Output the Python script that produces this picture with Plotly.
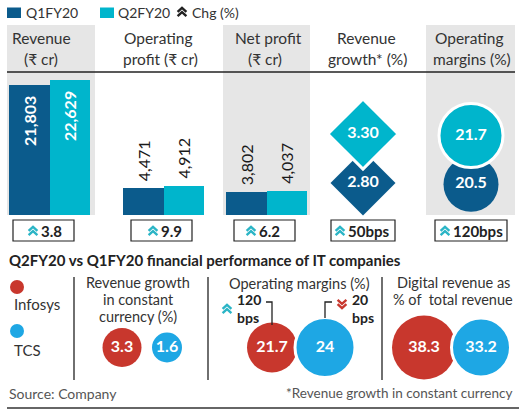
import plotly.graph_objects as go

# ---------------- data ----------------
quarters = ["Q1FY20", "Q2FY20"]
revenue = [21803, 22629]
op_profit = [4471, 4912]
net_profit = [3802, 4037]
rev_growth = [2.80, 3.30]
op_margin = [20.5, 21.7]
chg_labels = ["3.8", "9.9", "6.2", "50bps", "120bps"]
panel_titles = [("Revenue", "(₹ cr)"), ("Operating", "profit (₹ cr)"), ("Net profit", "(₹ cr)"),
                ("Revenue", "growth* (%)"), ("Operating", "margins (%)")]

companies = ["Infosys", "TCS"]
cc_growth = [3.3, 1.6]
op_margin_co = [21.7, 24]
op_margin_chg_bps = ["120", "20"]
digital_share = [38.3, 33.2]

# ---------------- styles ----------------
W, H = 527, 418
FONT = "Lato"
DARK = "#0b5b8c"
TEAL = "#00b5cc"
GRAY = "#e6e6e6"
RED = "#c8372d"
BLUE = "#1ea7e4"
CHEV = "#2bb5c6"
TXT = "#333333"
NB = "\u00a0"


def fx(x):
    return x / W


def fy(y):
    return 1 - y / H


def P(x, y):
    return f"{fx(x):.5f},{fy(y):.5f}"


shapes = []
annotations = []


def rect(x0, y0, x1, y1, fill=None, line=None, lw=1):
    shapes.append(dict(type="rect", xref="paper", yref="paper", x0=fx(x0), x1=fx(x1), y0=fy(y1), y1=fy(y0),
                       fillcolor=fill if fill else "rgba(0,0,0,0)",
                       line=dict(color=line if line else "rgba(0,0,0,0)", width=lw if line else 0),
                       layer="below"))


def line(x0, y0, x1, y1, color="#222", w=1.3):
    shapes.append(dict(type="line", xref="paper", yref="paper", x0=fx(x0), x1=fx(x1), y0=fy(y0), y1=fy(y1),
                       line=dict(color=color, width=w), layer="above"))


def path(pts, color="#222", w=1.3):
    d = "M" + " L".join(P(x, y) for x, y in pts)
    shapes.append(dict(type="path", xref="paper", yref="paper", path=d,
                       line=dict(color=color, width=w), layer="above"))


def chevron(cx, cy, color, up=True):
    w, h, gap = 4.4, 4.0, 4.4
    for k in (0, 1):
        if up:
            ty = cy - (h + gap) / 2 + k * gap
            pts = [(cx - w, ty + h), (cx, ty), (cx + w, ty + h)]
        else:
            ty = cy + (h + gap) / 2 - k * gap
            pts = [(cx - w, ty - h), (cx, ty), (cx + w, ty - h)]
        path(pts, color=color, w=2.4)


def dot(cx, cy, d, color):
    shapes.append(dict(type="circle", xref="paper", yref="paper", x0=fx(cx - d / 2), x1=fx(cx + d / 2),
                       y0=fy(cy + d / 2), y1=fy(cy - d / 2), fillcolor=color, line=dict(width=0), layer="above"))


def text(x, y, s, size=15, color=TXT, anchor="center", bold=False, align="center"):
    annotations.append(dict(x=fx(x), y=fy(y), xref="paper", yref="paper", text=s, showarrow=False,
                            xanchor=anchor, yanchor="middle", align=align,
                            font=dict(family=FONT, size=size, color=color, weight="bold" if bold else "normal")))


# ---------------- top legend ----------------
rect(7, 7.5, 21, 18, fill=DARK)
text(24, 12, quarters[0], size=14, anchor="left")
rect(100, 7.5, 114, 18, fill=TEAL)
text(116, 12, quarters[1], size=14, anchor="left")
chevron(182, 12, "#222")
text(190, 12, "Chg (%)", size=14, anchor="left")

# ---------------- panels ----------------
for x0, x1 in [(7, 95), (223, 310), (426, 515)]:
    rect(x0, 25, x1, 215, fill=GRAY)
line(7, 72, 515, 72, color="#222", w=1.3)

title_pos = [(41, 41), (158, 160), (268, 265), (366, 367), (469, 472)]
for (t1, t2), (c1, c2) in zip(panel_titles, title_pos):
    text(c1, 38, t1, size=15.5)
    text(c2, 59, t2, size=15.5)

# change boxes
boxes = [(13, 74), (131, 192), (234, 295), (331, 395), (435, 507)]
chev_x = [33, 153, 251, 340, 445]
for (b0, b1), cx, lab in zip(boxes, chev_x, chg_labels):
    shapes.append(dict(type="rect", xref="paper", yref="paper", x0=fx(b0), x1=fx(b1), y0=fy(241), y1=fy(220),
                       fillcolor="white", line=dict(color="#222", width=1.2), layer="below"))
    chevron(cx, 231, CHEV)
    text(cx + 6, 231, lab, size=15, color="#222", anchor="left", bold=True)

# ---------------- bottom section ----------------
text(7, 260, "Q2FY20 vs Q1FY20 financial performance of IT companies", size=15, color="#222",
     anchor="left", bold=True)
dot(17, 287, 14, RED)
text(12, 304, companies[0], size=15, anchor="left")
dot(17, 331, 14, BLUE)
text(12, 350, companies[1], size=15, anchor="left")
for xv in (74, 208, 382):
    line(xv, 277, xv, 380, color="#222", w=1.3)

text(138, 282, "Revenue growth", size=14.5)
text(138, 299, "in constant", size=14.5)
text(138, 316, "currency (%)", size=14.5)
text(299.5, 283, "Operating margins (%)", size=14.5)
text(453, 282, "Digital revenue as", size=14.5)
text(453, 299, "% of  total revenue", size=14.5)

chevron(227, 309, CHEV, up=True)
text(235, 308, op_margin_chg_bps[0] + "<br>bps", size=14, color="#222", anchor="left", bold=True,
     align="left")
path([(266, 302), (272, 302), (272, 325)])
chevron(342, 304, RED, up=False)
text(350, 308, op_margin_chg_bps[1] + "<br>bps", size=14, color="#222", anchor="left", bold=True,
     align="left")
path([(332, 302), (325, 302), (325, 318)])

text(7, 393, "Source: Company", size=14, color="#555", anchor="left")
text(514, 393, "*Revenue growth in constant currency", size=13.5, color="#555", anchor="right")
line(7, 408, 519, 408, color="#333", w=1.5)

# ---------------- traces ----------------
fig = go.Figure()

bar_common = dict(marker=dict(color=[DARK, TEAL], line=dict(width=0)), textangle=-90, constraintext="none",
                  cliponaxis=False, hoverinfo="skip", showlegend=False)
fig.add_trace(go.Bar(x=quarters, y=revenue, xaxis="x", yaxis="y", texttemplate="%{y:,}" + NB * 2,
                     textposition="inside", insidetextanchor="end",
                     insidetextfont=dict(family=FONT, size=16, color="white", weight="bold"), **bar_common))
for xa, vals in (("x2", op_profit), ("x3", net_profit)):
    fig.add_trace(go.Bar(x=quarters, y=vals, xaxis=xa, yaxis="y", texttemplate=NB + "%{y:,}",
                         textposition="outside",
                         outsidetextfont=dict(family=FONT, size=16, color="#1a1a1a"), **bar_common))

sc_common = dict(mode="markers+text", textposition="middle center", cliponaxis=False, hoverinfo="skip",
                 showlegend=False, textfont=dict(family=FONT, size=16, color="white", weight="bold"))
fig.add_trace(go.Scatter(x=[0, 0], y=rev_growth, xaxis="x4", yaxis="y4",
                         marker=dict(symbol="diamond", size=[50, 54], color=[DARK, TEAL], opacity=1,
                                     line=dict(color="white", width=[0, 3])),
                         text=[f"{v:.2f}" for v in rev_growth], **sc_common))
fig.add_trace(go.Scatter(x=[0, 0], y=op_margin, xaxis="x5", yaxis="y5",
                         marker=dict(symbol="circle", size=[55, 64], color=[DARK, TEAL], opacity=1,
                                     line=dict(color="white", width=[0, 3])),
                         text=[f"{v:.1f}" for v in op_margin], **sc_common))

for xa, vals, sizes, lw in (("x6", cc_growth, [39, 30], [0, 0]),
                            ("x7", op_margin_co, [50, 60], [0, 3]),
                            ("x8", digital_share, [64, 59], [0, 3])):
    fig.add_trace(go.Scatter(x=companies, y=[0, 0], xaxis=xa, yaxis="y6",
                             marker=dict(symbol="circle", size=sizes, color=[RED, BLUE], opacity=1,
                                         line=dict(color="white", width=lw)),
                             text=[f"{v:g}" for v in vals], **sc_common))

# ---------------- axes ----------------
def dom(a, b, total):
    return [a / total, b / total]


def ydom(top, bottom):
    return [1 - bottom / H, 1 - top / H]


hidden = dict(visible=False, fixedrange=True, showgrid=False, zeroline=False)
bar_px_per_unit = 130 / revenue[0]
layout_axes = dict(
    xaxis=dict(domain=dom(9, 90, W), type="category", range=[-0.5, 1.5], anchor="y", **hidden),
    xaxis2=dict(domain=dom(123, 204, W), type="category", range=[-0.5, 1.5], anchor="y", **hidden),
    xaxis3=dict(domain=dom(226, 307, W), type="category", range=[-0.5, 1.5], anchor="y", **hidden),
    yaxis=dict(domain=ydom(25, 215), range=[0, 190 / bar_px_per_unit], anchor="x", **hidden),
    xaxis4=dict(domain=dom(323, 403, W), range=[-1, 1], anchor="y4", **hidden),
    yaxis4=dict(domain=ydom(25, 215), range=[2.80 - 32 / 98, 2.80 - 32 / 98 + 190 / 98], anchor="x4", **hidden),
    xaxis5=dict(domain=dom(431, 511, W), range=[-1, 1], anchor="y5", **hidden),
    yaxis5=dict(domain=ydom(25, 215), range=[20.5 - 30.7 / 40.67, 20.5 - 30.7 / 40.67 + 190 / 40.67],
                anchor="x5", **hidden),
    xaxis6=dict(domain=dom(99.5, 189.5, W), type="category", range=[-0.5, 1.5], anchor="y6", **hidden),
    xaxis7=dict(domain=dom(245.5, 351.5, W), type="category", range=[-0.5, 1.5], anchor="y6", **hidden),
    xaxis8=dict(domain=dom(395.5, 509.5, W), type="category", range=[-0.5, 1.5], anchor="y6", **hidden),
    yaxis6=dict(domain=ydom(300, 395), range=[-1, 1], anchor="x6", **hidden),
)

fig.update_layout(width=W, height=H, margin=dict(l=0, r=0, t=0, b=0), autosize=False,
                  paper_bgcolor="white", plot_bgcolor="rgba(0,0,0,0)",
                  bargap=0, bargroupgap=0, hovermode=False, showlegend=False,
                  font=dict(family=FONT, color=TXT),
                  shapes=shapes, annotations=annotations, **layout_axes)

fig.write_html("out.html", config={"displayModeBar": False, "staticPlot": True},
               post_script="document.body.style.margin='0';document.body.style.overflow='hidden';")
